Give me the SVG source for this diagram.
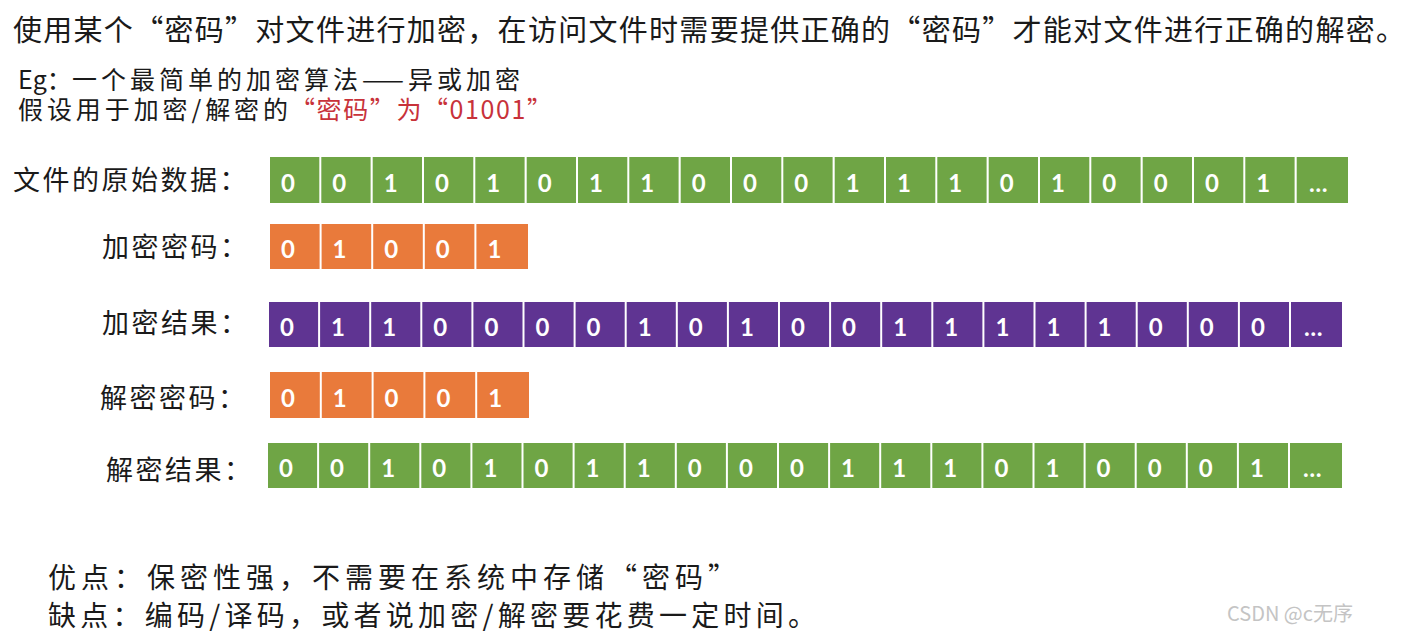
<svg xmlns="http://www.w3.org/2000/svg" width="1414" height="644" viewBox="0 0 1414 644">
<style>
.t{font-family:"Noto Sans CJK SC","Noto Sans",sans-serif;fill:#1a1a1a}
.red{fill:#c8323a}
.lbl{font-family:"Noto Sans CJK SC","Noto Sans",sans-serif;fill:#1a1a1a;font-size:27px;letter-spacing:2.5px}
.d{font-family:Lato,"Liberation Sans",sans-serif;font-weight:bold;font-size:24px;fill:#fff}
.g{fill:#6fa545}
.o{fill:#e97a3b}
.p{fill:#5f3492}
.wm{font-family:"Noto Sans CJK SC","Noto Sans",sans-serif;fill:#c4c4c4;font-size:20px}
</style>
<rect width="1414" height="644" fill="#fff"/>
<g id="header">
<text class="t" x="13" y="41" font-size="29" textLength="1392" lengthAdjust="spacing">使用某个“密码”对文件进行加密，在访问文件时需要提供正确的“密码”才能对文件进行正确的解密。</text>
<text class="t" x="18" y="89" font-size="25">Eg：</text>
<text class="t" x="72" y="89" font-size="25" textLength="448" lengthAdjust="spacing">一个最简单的加密算法——异或加密</text>
<text class="t" x="18" y="119" font-size="25" textLength="270" lengthAdjust="spacing">假设用于加密/解密的</text>
<text class="t red" x="290" y="119" font-size="25" textLength="262" lengthAdjust="spacing">“密码”为“01001”</text>
</g>
<g id="labels">
<text class="lbl" x="13" y="190">文件的原始数据：</text>
<text class="lbl" x="102" y="257">加密密码：</text>
<text class="lbl" x="102" y="333">加密结果：</text>
<text class="lbl" x="100" y="408">解密密码：</text>
<text class="lbl" x="106" y="480">解密结果：</text>
</g>
<g id="row-original">
<rect class="g" x="270" y="157" width="49.3" height="46"/><text class="d" x="281" y="191.5">0</text>
<rect class="g" x="321.3" y="157" width="49.3" height="46"/><text class="d" x="332.3" y="191.5">0</text>
<rect class="g" x="372.7" y="157" width="49.3" height="46"/><text class="d" x="383.7" y="191.5">1</text>
<rect class="g" x="424" y="157" width="49.3" height="46"/><text class="d" x="435" y="191.5">0</text>
<rect class="g" x="475.3" y="157" width="49.3" height="46"/><text class="d" x="486.3" y="191.5">1</text>
<rect class="g" x="526.7" y="157" width="49.3" height="46"/><text class="d" x="537.7" y="191.5">0</text>
<rect class="g" x="578" y="157" width="49.3" height="46"/><text class="d" x="589" y="191.5">1</text>
<rect class="g" x="629.3" y="157" width="49.3" height="46"/><text class="d" x="640.3" y="191.5">1</text>
<rect class="g" x="680.7" y="157" width="49.3" height="46"/><text class="d" x="691.7" y="191.5">0</text>
<rect class="g" x="732" y="157" width="49.3" height="46"/><text class="d" x="743" y="191.5">0</text>
<rect class="g" x="783.3" y="157" width="49.3" height="46"/><text class="d" x="794.3" y="191.5">0</text>
<rect class="g" x="834.7" y="157" width="49.3" height="46"/><text class="d" x="845.7" y="191.5">1</text>
<rect class="g" x="886" y="157" width="49.3" height="46"/><text class="d" x="897" y="191.5">1</text>
<rect class="g" x="937.3" y="157" width="49.3" height="46"/><text class="d" x="948.3" y="191.5">1</text>
<rect class="g" x="988.7" y="157" width="49.3" height="46"/><text class="d" x="999.7" y="191.5">0</text>
<rect class="g" x="1040" y="157" width="49.3" height="46"/><text class="d" x="1051" y="191.5">1</text>
<rect class="g" x="1091.3" y="157" width="49.3" height="46"/><text class="d" x="1102.3" y="191.5">0</text>
<rect class="g" x="1142.7" y="157" width="49.3" height="46"/><text class="d" x="1153.7" y="191.5">0</text>
<rect class="g" x="1194" y="157" width="49.3" height="46"/><text class="d" x="1205" y="191.5">0</text>
<rect class="g" x="1245.3" y="157" width="49.3" height="46"/><text class="d" x="1256.3" y="191.5">1</text>
<rect class="g" x="1296.7" y="157" width="51.3" height="46"/><text class="d" x="1309" y="191.5">…</text>
</g>
<g id="row-enc-key">
<rect class="o" x="270" y="224" width="49.6" height="45"/><text class="d" x="281" y="258">0</text>
<rect class="o" x="321.6" y="224" width="49.6" height="45"/><text class="d" x="332.6" y="258">1</text>
<rect class="o" x="373.2" y="224" width="49.6" height="45"/><text class="d" x="384.2" y="258">0</text>
<rect class="o" x="424.8" y="224" width="49.6" height="45"/><text class="d" x="435.8" y="258">0</text>
<rect class="o" x="476.4" y="224" width="51.6" height="45"/><text class="d" x="487.4" y="258">1</text>
</g>
<g id="row-encrypted">
<rect class="p" x="269" y="302" width="49.1" height="45"/><text class="d" x="280" y="336">0</text>
<rect class="p" x="320.1" y="302" width="49.1" height="45"/><text class="d" x="331.1" y="336">1</text>
<rect class="p" x="371.2" y="302" width="49.1" height="45"/><text class="d" x="382.2" y="336">1</text>
<rect class="p" x="422.3" y="302" width="49.1" height="45"/><text class="d" x="433.3" y="336">0</text>
<rect class="p" x="473.4" y="302" width="49.1" height="45"/><text class="d" x="484.4" y="336">0</text>
<rect class="p" x="524.5" y="302" width="49.1" height="45"/><text class="d" x="535.5" y="336">0</text>
<rect class="p" x="575.6" y="302" width="49.1" height="45"/><text class="d" x="586.6" y="336">0</text>
<rect class="p" x="626.7" y="302" width="49.1" height="45"/><text class="d" x="637.7" y="336">1</text>
<rect class="p" x="677.8" y="302" width="49.1" height="45"/><text class="d" x="688.8" y="336">0</text>
<rect class="p" x="728.9" y="302" width="49.1" height="45"/><text class="d" x="739.9" y="336">1</text>
<rect class="p" x="780" y="302" width="49.1" height="45"/><text class="d" x="791" y="336">0</text>
<rect class="p" x="831.1" y="302" width="49.1" height="45"/><text class="d" x="842.1" y="336">0</text>
<rect class="p" x="882.2" y="302" width="49.1" height="45"/><text class="d" x="893.2" y="336">1</text>
<rect class="p" x="933.3" y="302" width="49.1" height="45"/><text class="d" x="944.3" y="336">1</text>
<rect class="p" x="984.4" y="302" width="49.1" height="45"/><text class="d" x="995.4" y="336">1</text>
<rect class="p" x="1035.5" y="302" width="49.1" height="45"/><text class="d" x="1046.5" y="336">1</text>
<rect class="p" x="1086.6" y="302" width="49.1" height="45"/><text class="d" x="1097.6" y="336">1</text>
<rect class="p" x="1137.7" y="302" width="49.1" height="45"/><text class="d" x="1148.7" y="336">0</text>
<rect class="p" x="1188.8" y="302" width="49.1" height="45"/><text class="d" x="1199.8" y="336">0</text>
<rect class="p" x="1239.9" y="302" width="49.1" height="45"/><text class="d" x="1250.9" y="336">0</text>
<rect class="p" x="1291" y="302" width="51" height="45"/><text class="d" x="1304" y="336">…</text>
</g>
<g id="row-dec-key">
<rect class="o" x="270" y="372" width="49.8" height="46"/><text class="d" x="281" y="406.5">0</text>
<rect class="o" x="321.8" y="372" width="49.8" height="46"/><text class="d" x="332.8" y="406.5">1</text>
<rect class="o" x="373.6" y="372" width="49.8" height="46"/><text class="d" x="384.6" y="406.5">0</text>
<rect class="o" x="425.4" y="372" width="49.8" height="46"/><text class="d" x="436.4" y="406.5">0</text>
<rect class="o" x="477.2" y="372" width="51.8" height="46"/><text class="d" x="488.2" y="406.5">1</text>
</g>
<g id="row-decrypted">
<rect class="g" x="268" y="443" width="49.1" height="45"/><text class="d" x="279" y="477">0</text>
<rect class="g" x="319.1" y="443" width="49.1" height="45"/><text class="d" x="330.1" y="477">0</text>
<rect class="g" x="370.2" y="443" width="49.1" height="45"/><text class="d" x="381.2" y="477">1</text>
<rect class="g" x="421.3" y="443" width="49.1" height="45"/><text class="d" x="432.3" y="477">0</text>
<rect class="g" x="472.4" y="443" width="49.1" height="45"/><text class="d" x="483.4" y="477">1</text>
<rect class="g" x="523.5" y="443" width="49.1" height="45"/><text class="d" x="534.5" y="477">0</text>
<rect class="g" x="574.6" y="443" width="49.1" height="45"/><text class="d" x="585.6" y="477">1</text>
<rect class="g" x="625.7" y="443" width="49.1" height="45"/><text class="d" x="636.7" y="477">1</text>
<rect class="g" x="676.8" y="443" width="49.1" height="45"/><text class="d" x="687.8" y="477">0</text>
<rect class="g" x="727.9" y="443" width="49.1" height="45"/><text class="d" x="738.9" y="477">0</text>
<rect class="g" x="779" y="443" width="49.1" height="45"/><text class="d" x="790" y="477">0</text>
<rect class="g" x="830.1" y="443" width="49.1" height="45"/><text class="d" x="841.1" y="477">1</text>
<rect class="g" x="881.2" y="443" width="49.1" height="45"/><text class="d" x="892.2" y="477">1</text>
<rect class="g" x="932.3" y="443" width="49.1" height="45"/><text class="d" x="943.3" y="477">1</text>
<rect class="g" x="983.4" y="443" width="49.1" height="45"/><text class="d" x="994.4" y="477">0</text>
<rect class="g" x="1034.5" y="443" width="49.1" height="45"/><text class="d" x="1045.5" y="477">1</text>
<rect class="g" x="1085.6" y="443" width="49.1" height="45"/><text class="d" x="1096.6" y="477">0</text>
<rect class="g" x="1136.7" y="443" width="49.1" height="45"/><text class="d" x="1147.7" y="477">0</text>
<rect class="g" x="1187.8" y="443" width="49.1" height="45"/><text class="d" x="1198.8" y="477">0</text>
<rect class="g" x="1238.9" y="443" width="49.1" height="45"/><text class="d" x="1249.9" y="477">1</text>
<rect class="g" x="1290" y="443" width="52" height="45"/><text class="d" x="1303" y="477">…</text>
</g>
<g id="notes">
<text class="t" x="48" y="588" font-size="28" textLength="688" lengthAdjust="spacing">优点：保密性强，不需要在系统中存储“密码”</text>
<text class="t" x="48" y="626" font-size="28" textLength="768" lengthAdjust="spacing">缺点：编码/译码，或者说加密/解密要花费一定时间。</text>
</g>
<text class="wm" x="1227" y="621">CSDN @c无序</text>
</svg>
